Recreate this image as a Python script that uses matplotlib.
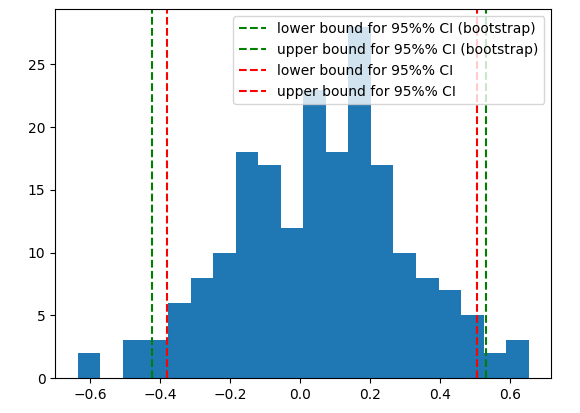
import numpy as np
import matplotlib
matplotlib.use("Agg")
import matplotlib.pyplot as plt

# histogram counts (20 bins)
counts = [2, 0, 3, 3, 6, 8, 10, 18, 17, 12, 23, 18, 28, 17, 10, 8, 7, 5, 2, 3]
x_min = -0.635
x_max = 0.653

# confidence interval bounds
boot_lower = -0.424
boot_upper = 0.532
ci_lower = -0.379
ci_upper = 0.506

edges = np.linspace(x_min, x_max, len(counts) + 1)

fig = plt.figure(figsize=(5.8, 4.13), dpi=100)
fig.subplots_adjust(left=0.0953, right=0.9505, top=0.9775, bottom=0.0847)
ax = fig.add_subplot(111)

ax.hist(edges[:-1], bins=edges, weights=counts)
ax.axvline(boot_lower, color="g", linestyle="--", label="lower bound for 95%% CI (bootstrap)")
ax.axvline(boot_upper, color="g", linestyle="--", label="upper bound for 95%% CI (bootstrap)")
ax.axvline(ci_lower, color="r", linestyle="--", label="lower bound for 95%% CI")
ax.axvline(ci_upper, color="r", linestyle="--", label="upper bound for 95%% CI")
ax.legend(loc="upper right")

fig.savefig("out.png")
